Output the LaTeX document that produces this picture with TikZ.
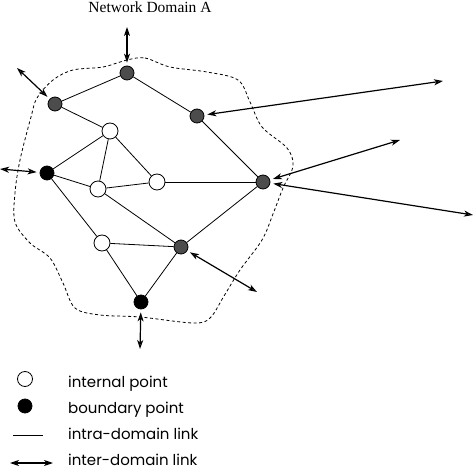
\documentclass[tikz,border=0pt]{standalone}
\usepackage{fontspec}
\setmainfont{Liberation Serif}
\newfontfamily\legendfont{Poppins}
\usetikzlibrary{arrows.meta}

\tikzset{
  inpt/.style={circle, draw, line width=0.8pt, fill=white, minimum size=16pt, inner sep=0pt},
  bdpt/.style={circle, draw, line width=0.8pt, fill=black!70, minimum size=14pt, inner sep=0pt},
  intra/.style={line width=0.8pt},
  inter/.style={line width=1.2pt, {Stealth[open,length=9pt,width=6pt,inset=2.5pt]}-{Stealth[open,length=9pt,width=6pt,inset=2.5pt]}},
  legtext/.style={anchor=base west, inner sep=0pt, font=\legendfont\fontsize{15}{17}\selectfont},
}

\begin{document}
\begin{tikzpicture}[x=1pt, y=-1pt]
    \useasboundingbox (0,0) rectangle (474,470);

    \node[anchor=base, inner sep=0pt, font=\fontsize{15.5}{17}\selectfont] (title) at (150,13) {Network Domain A};

    % domain border
    \draw[line width=0.8pt, dash pattern=on 3pt off 2.5pt] plot[smooth cycle, tension=0.55] coordinates {
      (127,60) (145,58) (170,67) (207,72) (238,80) (250,102) (262,127) (287,148) (293,166)
      (283,188) (273,214) (262,240) (240,270) (224,296) (210,318) (193,323) (140,317)
      (100,315) (75,308) (63,283) (50,258) (30,243) (15,222) (15,193) (20,160) (31,117)
      (37,98) (53,80) (73,70) (103,67)};

    % boundary points
    \node[bdpt] (b1) at (127,73) {};
    \node[bdpt] (b2) at (55,104) {};
    \node[bdpt] (b3) at (197,116) {};
    \node[bdpt, fill=black] (b4) at (47,173) {};
    \node[bdpt] (b5) at (263,182) {};
    \node[bdpt] (b6) at (181,247) {};
    \node[bdpt, fill=black] (b7) at (141,302) {};

    % internal points
    \node[inpt] (i1) at (110,131) {};
    \node[inpt] (i2) at (98,189) {};
    \node[inpt] (i3) at (157,182) {};
    \node[inpt] (i4) at (102,243) {};

    \foreach \a/\b in {b1/b2, b1/b3, b2/i1, b3/b5, i1/b4, i1/i2, i1/i3, b4/i2, b4/i4,
                       i2/i3, i3/b5, i2/b6, i4/b6, i4/b7, b6/b7, b6/b5}
      \draw[intra] (\a) -- (\b);

    % outer ends of the inter-domain links
    \coordinate (o1) at (127,27);
    \coordinate (o2) at (17,68);
    \coordinate (o3) at (443,81);
    \coordinate (o4) at (0,169);
    \coordinate (o5) at (400,140);
    \coordinate (o6) at (473,215);
    \coordinate (o7) at (257,292);
    \coordinate (o8) at (140,349);

    \foreach \a/\b in {b1/o1, b2/o2, b3/o3, b4/o4, b5/o5, b5/o6, b6/o7, b7/o8}
      \draw[inter, shorten <=3pt] (\a) -- (\b);

    % legend
    \node[inpt, minimum size=15pt] (lin) at (25,379) {};
    \node[bdpt, fill=black] (lbd) at (25,406) {};
    \coordinate (la1) at (13,435);
    \coordinate (la2) at (43,435);
    \draw[intra] (la1) -- (la2);
    \coordinate (lb1) at (10,463);
    \coordinate (lb2) at (53,463);
    \draw[inter] (lb1) -- (lb2);

    \node[legtext] (t1) at (68,387) {internal point};
    \node[legtext] (t2) at (68,413) {boundary point};
    \node[legtext] (t3) at (68,439) {intra-domain link};
    \node[legtext] (t4) at (68,465) {inter-domain link};
\end{tikzpicture}
\end{document}
